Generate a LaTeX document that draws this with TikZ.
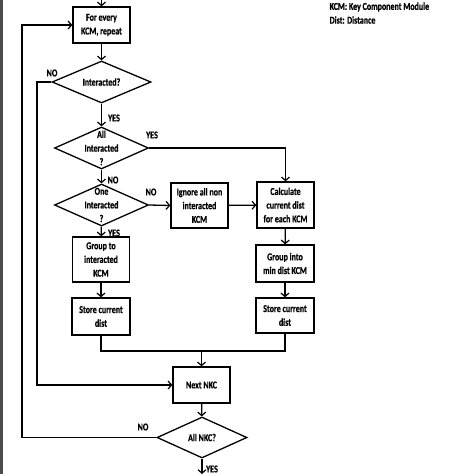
\documentclass[tikz,border=0pt]{standalone}
\usepackage{fontspec}
\setmainfont{Carlito}[FakeStretch=0.76,BoldFeatures={FakeBold=0.6}]
\usetikzlibrary{shapes.geometric,arrows.meta}
\begin{document}
\begin{tikzpicture}[x=1pt,y=-1pt,
  font=\fontsize{10.5}{13.7}\selectfont\bfseries,
  line width=1.3pt,
  box/.style={draw,rectangle,inner sep=0pt,align=center,text=black},
  dia/.style={draw,diamond,inner sep=0pt},
  txt/.style={align=center,inner sep=0pt,text=black},
  lbl/.style={inner sep=0pt,text=black},
  arr/.style={-{Straight Barb[length=3.5pt,width=8pt,line width=1.2pt]}}]
\useasboundingbox (0,0) rectangle (474,474);
\fill[black!70] (0,0) rectangle (3,474);
% legend
\node[lbl,anchor=west] (leg1) at (329,7) {KCM: Key Component Module};
\node[lbl,anchor=west] (leg2) at (329,20) {Dist: Distance};
% nodes
\node[box,minimum width=57pt,minimum height=36pt] (top) at (101.5,25) {For every\\KCM, repeat};
\node[dia,minimum width=99pt,minimum height=42pt] (d1) at (101.5,82) {};
\node[txt] (t1) at (d1) {Interacted?};
\node[dia,minimum width=94pt,minimum height=42pt] (d2) at (101.5,148) {};
\node[txt] (t2) at (d2) {All\\Interacted\\?};
\node[dia,minimum width=94pt,minimum height=42pt] (d3) at (101.5,205) {};
\node[txt] (t3) at (d3) {One\\Interacted\\?};
\node[box,minimum width=57pt,minimum height=45pt] (ign) at (199.5,205.5) {Ignore all non\\interacted\\KCM};
\node[box,minimum width=57pt,minimum height=45pt] (g1) at (101,259.5) {Group to\\interacted\\KCM};
\node[box,minimum width=58pt,minimum height=37pt] (s1) at (101,316.5) {Store current\\dist};
\node[box,minimum width=57pt,minimum height=46pt] (calc) at (285.5,205) {Calculate\\current dist\\for each KCM};
\node[box,minimum width=58pt,minimum height=37pt] (g2) at (285,263.5) {Group into\\min dist KCM};
\node[box,minimum width=58pt,minimum height=35pt] (s2) at (285,315.5) {Store current\\dist};
\node[box,minimum width=57pt,minimum height=36pt] (next) at (201.5,385) {Next NKC};
\node[dia,minimum width=90pt,minimum height=41pt] (d4) at (202,437.5) {};
\node[txt] (t4) at (d4) {All NKC?};
% coordinates
\coordinate (in) at (101.5,0);
\coordinate (out) at (202,474);
\coordinate (m) at (201.5,351);
% connectors
\draw[arr] (in) -- (top);
\draw[arr] (top) -- (d1);
\draw[arr] (d1) -- (d2);
\draw[arr] (d1.west) -- (37,82) -- (37,385) -- (next.west);
\draw[arr] (d2.east) -| (calc.north);
\draw[arr] (d2) -- (d3);
\draw[arr] (d3.east) -- (ign.west);
\draw[arr] (d3) -- (g1);
\draw[arr] (ign) -- (calc);
\draw[arr] (g1) -- (s1);
\draw[arr] (calc) -- (g2);
\draw[arr] (g2) -- (s2);
\draw (s1.south) |- (m) -| (s2.south);
\draw[arr] (m) -- (next);
\draw[arr] (next) -- (d4);
\draw[arr] (d4.west) -- (22,437.5) -- (22,25) -- (top.west);
\draw[arr] (d4.south) -- (out);
% labels
\node[lbl] (l1) at (52,73) {NO};
\node[lbl] (l2) at (114,118) {YES};
\node[lbl] (l3) at (152,135) {YES};
\node[lbl] (l4) at (113,180) {NO};
\node[lbl] (l5) at (151,192) {NO};
\node[lbl] (l6) at (114,233) {YES};
\node[lbl] (l7) at (143,427) {NO};
\node[lbl] (l8) at (212,469) {YES};
\end{tikzpicture}
\end{document}
